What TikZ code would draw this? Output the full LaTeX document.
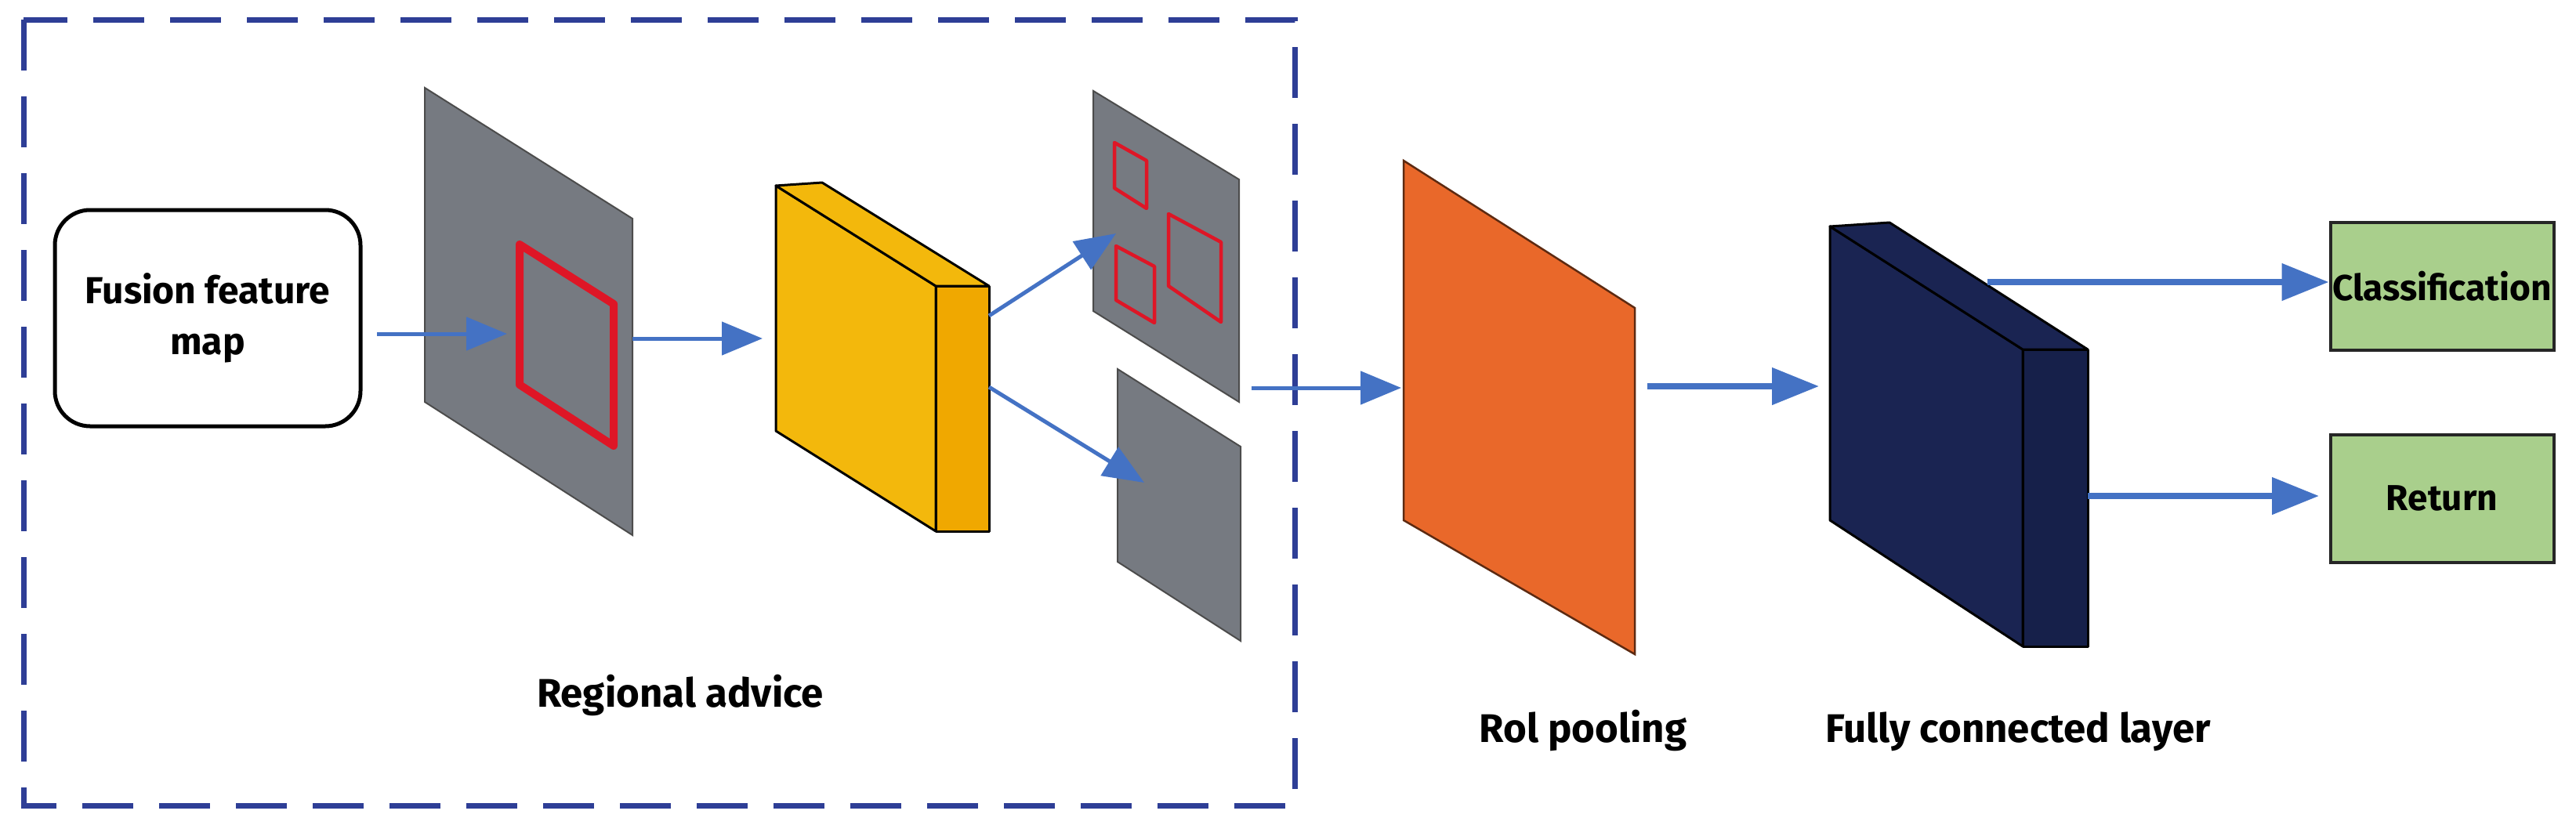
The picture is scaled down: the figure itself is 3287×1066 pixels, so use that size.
\documentclass[tikz,border=0pt]{standalone}
\usepackage{fontspec}
\setmainfont{Fira Sans}
\usetikzlibrary{arrows.meta}
\definecolor{dashblue}{RGB}{46,62,150}
\definecolor{arrowblue}{RGB}{68,114,196}
\definecolor{planegray}{RGB}{118,122,129}
\definecolor{boxred}{RGB}{222,22,38}
\definecolor{yellowfront}{RGB}{243,184,12}
\definecolor{yellowside}{RGB}{240,168,0}
\definecolor{orangeplane}{RGB}{233,104,42}
\definecolor{navyfront}{RGB}{26,36,82}
\definecolor{navyside}{RGB}{22,32,74}
\definecolor{greenfill}{RGB}{169,207,140}
\begin{document}
\begin{tikzpicture}[x=1pt,y=-1pt,
  plane/.style={fill=planegray, draw=black!70, line width=2pt},
  bigred/.style={draw=boxred, line width=10pt, line join=round},
  smallred/.style={draw=boxred, line width=4.5pt, line join=round},
  solid3d/.style={draw=black, line width=3pt, line join=round},
  flow/.style={draw=arrowblue, line width=5pt, -{Triangle[length=52pt,width=42pt]}},
  flowthick/.style={draw=arrowblue, line width=8pt, -{Triangle[length=60pt,width=46pt]}},
  lbl/.style={font=\fontsize{51}{60}\selectfont\bfseries, inner sep=0pt},
  greenbox/.style={draw=black!85, line width=4pt, fill=greenfill, minimum width=285pt, minimum height=163pt, inner sep=0pt, font=\fontsize{46}{54}\selectfont\bfseries},
  roundbox/.style={draw=black, line width=5pt, fill=white, rounded corners=45pt, minimum width=390pt, minimum height=276pt, align=center, inner sep=0pt, font=\fontsize{48}{65}\selectfont\bfseries}
]
\fill[white] (0,0) rectangle (3287,1066);
\useasboundingbox (0,0) rectangle (3287,1066);

% dashed region
\draw[dashblue, line width=7pt, dash pattern=on 65pt off 33pt] (30,25) rectangle (1652,1028);

% fusion box
\node[roundbox] (fusion) at (265,406) {Fusion feature\\map};

% plane 1 with red window
\draw[plane] (542,112) -- (807,279) -- (807,683) -- (542,513) -- cycle;
\draw[bigred] (663,312) -- (783,388) -- (783,569) -- (663,491) -- cycle;

% yellow block
\draw[solid3d, fill=yellowfront] (990,237) -- (1194,365) -- (1194,678) -- (990,550) -- cycle;
\draw[solid3d, fill=yellowside] (1194,365) -- (1262,365) -- (1262,678) -- (1194,678) -- cycle;
\draw[solid3d, fill=yellowfront] (990,237) -- (1049,233) -- (1262,365) -- (1194,365) -- cycle;

% small planes
\draw[plane] (1395,116) -- (1581,229) -- (1581,513) -- (1395,397) -- cycle;
\draw[smallred] (1422,182) -- (1463,205) -- (1463,266) -- (1422,240) -- cycle;
\draw[smallred] (1424,314) -- (1473,340) -- (1473,412) -- (1424,383) -- cycle;
\draw[smallred] (1491,273) -- (1558,309) -- (1558,411) -- (1491,365) -- cycle;
\draw[plane] (1426,471) -- (1583,570) -- (1583,818) -- (1426,717) -- cycle;

% orange plane
\draw[fill=orangeplane, draw=black!60!orangeplane, line width=2.5pt] (1791,205) -- (2086,393) -- (2086,835) -- (1791,664) -- cycle;

% navy block
\draw[solid3d, fill=navyfront] (2335,289) -- (2581,446) -- (2581,825) -- (2335,664) -- cycle;
\draw[solid3d, fill=navyside] (2581,446) -- (2664,446) -- (2664,825) -- (2581,825) -- cycle;
\draw[solid3d, fill=navyfront] (2335,289) -- (2411,284) -- (2664,446) -- (2581,446) -- cycle;

% output boxes
\node[greenbox] (class) at (3116,365) {Classification};
\node[greenbox] (ret) at (3116,636) {Return};

% connector end points
\coordinate (a1s) at (481,426);
\coordinate (a1e) at (647,426);
\coordinate (a2s) at (807,432);
\coordinate (a2e) at (973,432);
\coordinate (a3s) at (1262,403);
\coordinate (a3e) at (1424,298);
\coordinate (a4s) at (1262,494);
\coordinate (a4e) at (1460,616);
\coordinate (a5s) at (1597,495);
\coordinate (a5e) at (1788,495);
\coordinate (a6s) at (2102,493);
\coordinate (a6e) at (2321,493);
\coordinate (a7s) at (2536,360);
\coordinate (a8s) at (2664,633);
\coordinate (a8e) at (2959,633);

\draw[flow] (a1s) -- (a1e);
\draw[flow] (a2s) -- (a2e);
\draw[flow] (a3s) -- (a3e);
\draw[flow] (a4s) -- (a4e);
\draw[flow] (a5s) -- (a5e);
\draw[flowthick] (a6s) -- (a6e);
\draw[flowthick] (a7s) -- (a7s -| class.west);
\draw[flowthick] (a8s) -- (a8e);

% labels
\node[lbl, anchor=base] (regional) at (868,902) {Regional advice};
\node[lbl, anchor=base] (roi) at (2020,947) {Rol pooling};
\node[lbl, anchor=base] (fc) at (2575,947) {Fully connected layer};
\end{tikzpicture}
\end{document}
